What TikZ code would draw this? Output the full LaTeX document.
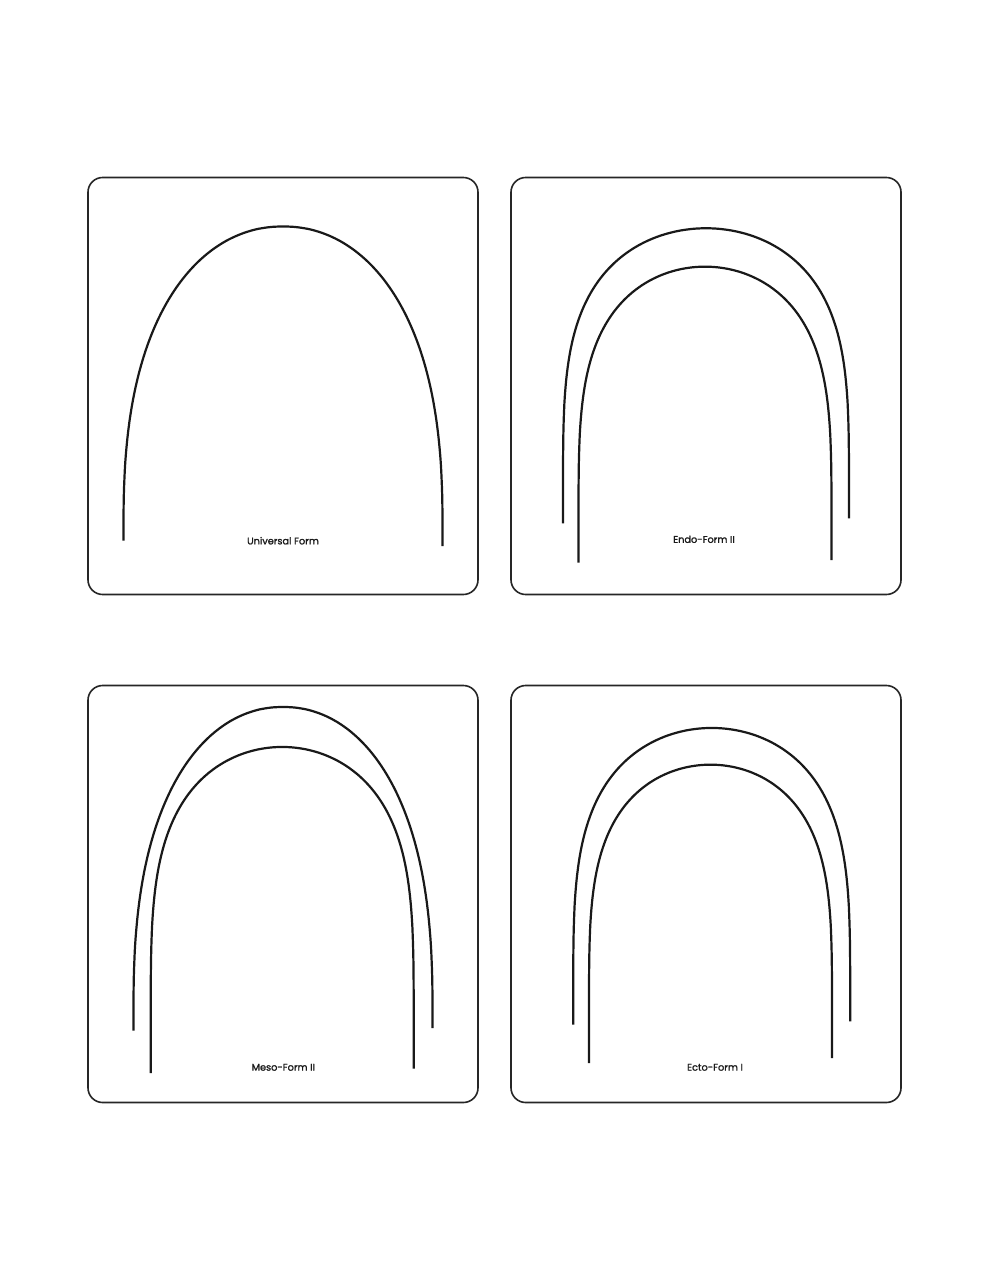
\documentclass[tikz,border=0pt]{standalone}
\usepackage{fontspec}
\newfontfamily\labfont[FakeBold=1.5]{Poppins}
\newcommand\archdraw[8]{%
  \draw[wire] #7 -- plot[domain=-89.99:89.99, samples=181]
    ({#1 + #3*sign(\x)*pow(max(abs(sin(\x)),0.0001), 2/#5)},
     {#2 + #4*(1 - pow(max(cos(\x),0.0001), 2/#6))}) -- #8;}
\begin{document}
\begin{tikzpicture}[x=0.75pt,y=-0.75pt,
  panel/.style={draw=black!85, line width=1.2pt, rounded corners=11pt},
  wire/.style={draw=black!90, line width=1.65pt, line join=round},
  lab/.style={font=\labfont\fontsize{7.3}{8}\selectfont, inner sep=0pt, text=black!90}]
\useasboundingbox (0,0) rectangle (989,1280);
\fill[white] (0,0) rectangle (989,1280);
% panels
\draw[panel] (88,177.5) rectangle (478,594.5);
\draw[panel] (511,177.5) rectangle (901,594.5);
\draw[panel] (88,685.5) rectangle (478,1102.5);
\draw[panel] (511,685.5) rectangle (901,1102.5);
% Universal Form
\archdraw{283}{226.5}{159.5}{304}{2.1}{2.5}{(123.5,540.7)}{(442.5,546)}
\node[lab] (luni) at (283,540.7) {Universal Form};
% Endo-Form II
\archdraw{706}{228.3}{143}{280}{2}{4}{(563,523.3)}{(849,518.3)}
\archdraw{705}{266.7}{126.5}{270}{2}{4}{(578.5,562.7)}{(831.5,560)}
\node[lab] (lendo) at (704,539.3) {Endo-Form II};
% Meso-Form II
\archdraw{283}{707}{149.5}{306}{2.1}{2.5}{(133.5,1030.7)}{(432.5,1028)}
\archdraw{282.2}{747}{131.5}{290}{2}{4}{(150.7,1073)}{(413.7,1068.7)}
\node[lab] (lmeso) at (283.3,1067.3) {Meso-Form II};
% Ecto-Form I
\archdraw{711.7}{728}{138.5}{286}{2}{4}{(573.2,1024.7)}{(850.2,1021.3)}
\archdraw{710.5}{764.7}{121.5}{260}{2}{4}{(589,1063)}{(832,1058)}
\node[lab] (lecto) at (715,1067.3) {Ecto-Form I};
\end{tikzpicture}
\end{document}
